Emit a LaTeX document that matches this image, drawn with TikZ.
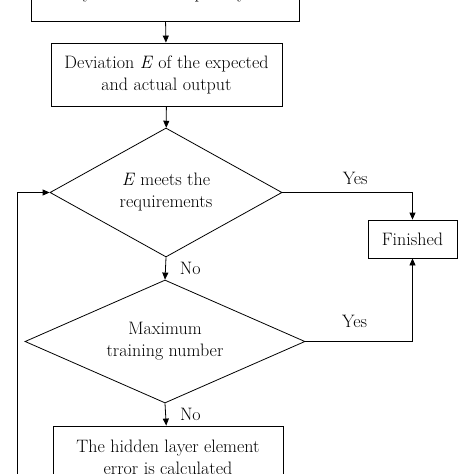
\documentclass[tikz,border=0pt]{standalone}
\usepackage{tikz}
\usetikzlibrary{shapes.geometric, arrows.meta, positioning}
\newcommand{\flowfont}{\fontsize{18}{22}\selectfont}
\tikzset{
    boxnode/.style = {draw, rectangle, inner sep = 0em, node distance=0em, minimum height=63pt, font=\flowfont},
    decisionnode/.style = {draw, diamond, aspect=2, inner sep = 0em, node distance=0em, font=\flowfont},
    textnode/.style  = {draw=none, fill=none, rectangle, inner sep = 0em, node distance=0em, font=\flowfont},
    connect/.style = {black, -{Triangle[length=7pt,width=6pt]}},
    every text node part/.style={align=center}
}

\begin{document}
\begin{tikzpicture}[x=1pt, y=-1pt, line width=0.8pt]
    \useasboundingbox (0,0) rectangle (474,474);
    \clip (0,0) rectangle (474,474);

    \node [boxnode, name=dev, minimum width=231pt] at (166.5,74.5) {Deviation \textit{E} of the expected\\and actual output};
    \node [boxnode, name=hidout, minimum width=268pt, above of = dev, yshift=85pt, xshift=-1.5pt] {\mbox{}\\layer and the output layer};
    \node [decisionnode, name=meets, minimum width=232pt, minimum height=129pt, below of = dev, yshift=-118pt, xshift=-0.5pt] {\textit{E} meets the\\requirements};
    \node [boxnode, name=finish, minimum width=89pt, minimum height=38pt, right of = meets, xshift=246.5pt, yshift=-46.5pt] {Finished};
    \node [decisionnode, name=maxtrain, minimum width=280pt, minimum height=123pt, below of = meets, yshift=-149pt, xshift=-1pt] {Maximum\\training number};
    \node [boxnode, name=hidden, minimum width=230pt, below of = maxtrain, yshift=-116pt, xshift=3pt] {The hidden layer element\\error is calculated};

    \coordinate (loop) at (17,192.5);

    \draw [connect] (hidout) -- (dev);
    \draw [connect] (dev) -- (meets);
    \draw [connect] (meets.south) -- node [textnode, right=14pt] {No} (maxtrain.north);
    \draw [connect] (maxtrain.south) -- node [textnode, right=14pt] {No} (hidden);
    \draw [connect] (meets.east) -| node [textnode, pos=0.28, above=7pt] {Yes} (finish.north);
    \draw [connect] (maxtrain.east) -| node [textnode, pos=0.23, above=13pt] {Yes} (finish.south);
    \draw [connect] (hidden.south) -- ++(0,12) -| (loop) -- (meets.west);
\end{tikzpicture}
\end{document}
